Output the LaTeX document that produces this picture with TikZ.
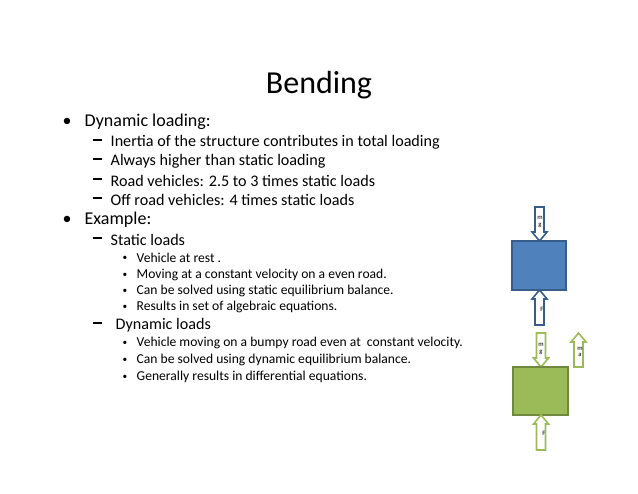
\documentclass[tikz,border=0pt]{standalone}
\usepackage{fontspec}
\setmainfont{Carlito}
\newcommand\myDown[4]{% x, ytop, ybot, color : arrow pointing down
 \draw[#4,line width=1.2pt,fill=white] (#1-4.5,-#2)--(#1+4.5,-#2)--(#1+4.5,-#3+9)--(#1+7.5,-#3+9)--(#1,-#3)--(#1-7.5,-#3+9)--(#1-4.5,-#3+9)--cycle;}
\newcommand\myUp[4]{% x, ytop, ybot, color : arrow pointing up
 \draw[#4,line width=1.2pt,fill=white] (#1-4.5,-#3)--(#1+4.5,-#3)--(#1+4.5,-#2-9)--(#1+7.5,-#2-9)--(#1,-#2)--(#1-7.5,-#2-9)--(#1-4.5,-#2-9)--cycle;}
\newcommand\mydash{\rule[0.25em]{0.6em}{0.08em}}
\definecolor{bluebox}{RGB}{79,129,189}
\definecolor{blueedge}{RGB}{56,93,138}
\definecolor{greenbox}{RGB}{155,187,89}
\definecolor{greenedge}{RGB}{113,137,63}
\begin{document}
\begin{tikzpicture}[x=0.75pt,y=0.75pt,
 t1/.style={anchor=west,font=\fontsize{13.5}{14}\selectfont},
 t2/.style={anchor=west,font=\fontsize{12.1}{13}\selectfont},
 t3/.style={anchor=west,font=\fontsize{10.2}{11}\selectfont}, 
 tiny/.style={font=\fontsize{5}{5}\selectfont,align=center,inner sep=0pt}]
\useasboundingbox (0,0) rectangle (638,-493);
\node[font=\fontsize{24}{26}\selectfont] (title) at (319,-85) {Bending};
\node[t1] (b1d) at (58,-122) {•};
\node[t1] (b1) at (80,-122) {Dynamic loading:};
\foreach \y/\s [count=\i] in {142/Inertia of the structure contributes in total loading,161/Always higher than static loading,181/{Road vehicles: 2.5 to 3 times static loads},200/Off road vehicles: 4 times static loads}{
 \node[t2] (d\i) at (88,-\y) {\mydash};
 \node[t2] (s\i) at (106,-\y) {\s};}
\node[t1] (b2d) at (58,-220) {•};
\node[t1] (b2) at (80,-220) {Example:};
\node[t2] (e1d) at (88,-240) {\mydash};
\node[t2] (e1) at (106,-240) {Static loads};
\foreach \y/\s [count=\i] in {258/Vehicle at rest .,275/Moving at a constant velocity on a even road.,291/Can be solved using static equilibrium balance.,307/Results in set of algebraic equations.}{
 \node[t3] (sd\i) at (118,-\y) {\scriptsize•};
 \node[t3] (st\i) at (132,-\y) {\s};}
\node[t2] (e2d) at (88,-325) {\mydash};
\node[t2] (e2) at (111,-325) {Dynamic loads};
\foreach \y/\s [count=\i] in {343/Vehicle moving on a bumpy road even at\ \ constant velocity.,360/Can be solved using dynamic equilibrium balance.,377/Generally results in differential equations.}{
 \node[t3] (dd\i) at (118,-\y) {\scriptsize•};
 \node[t3] (dt\i) at (132,-\y) {\s};}
% blue
\myDown{539.5}{207}{241}{blueedge}
\draw[blueedge,fill=bluebox,line width=0.8pt] (512,-241) rectangle (566,-290);
\myUp{539.5}{290}{325}{blueedge}
\node[tiny] (bmg) at (540,-222) {m\\g};
\node[tiny] (bF) at (542,-309) {F};
% green
\myDown{541}{333}{367}{greenbox}
\draw[greenedge,fill=greenbox,line width=0.8pt] (513,-367) rectangle (568,-415);
\myUp{541}{415}{450}{greenbox}
\myUp{578.5}{333}{367}{greenbox}
\node[tiny] (gmg) at (541,-349) {m\\g};
\node[tiny] (gF) at (544,-433) {F};
\node[tiny] (gma) at (580,-352) {m\\a};
\end{tikzpicture}
\end{document}
